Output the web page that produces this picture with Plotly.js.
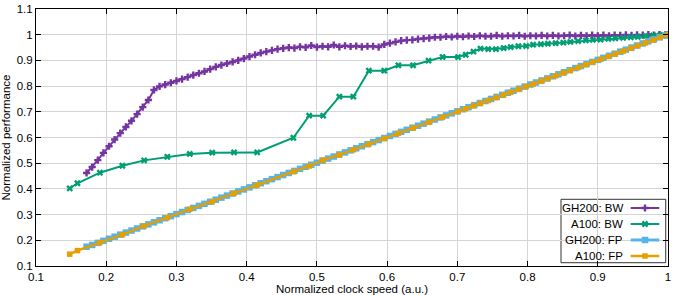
<!DOCTYPE html>
<html>
<head>
<meta charset="utf-8">
<script src="https://cdn.plot.ly/plotly-3.0.1.min.js"></script>
<style>html,body{margin:0;padding:0;background:#fff;}#chart{width:685px;height:295px;}</style>
</head>
<body>
<div id="chart"></div>
<script>
const gh200X = [
0.172,0.180,0.188,0.196,0.204,0.212,0.220,0.228,0.236,0.244,
0.252,0.260,0.268,0.276,0.284,0.292,0.300,0.308,0.316,0.324,
0.332,0.340,0.348,0.356,0.364,0.372,0.380,0.388,0.396,0.404,
0.412,0.420,0.428,0.436,0.444,0.452,0.460,0.468,0.476,0.484,
0.492,0.500,0.508,0.516,0.524,0.532,0.540,0.548,0.556,0.564,
0.572,0.580,0.588,0.596,0.604,0.612,0.620,0.628,0.636,0.644,
0.652,0.660,0.668,0.676,0.684,0.692,0.700,0.708,0.716,0.724,
0.732,0.740,0.748,0.756,0.764,0.772,0.780,0.788,0.796,0.804,
0.812,0.820,0.828,0.836,0.844,0.852,0.860,0.868,0.876,0.884,
0.892,0.900,0.908,0.916,0.924,0.932,0.940,0.948,0.956,0.964,
0.972,0.980,0.988,0.996,1.000];
const gh200BW = [
0.462,0.485,0.512,0.540,0.566,0.592,0.617,0.641,0.665,0.691,
0.718,0.746,0.785,0.799,0.806,0.813,0.820,0.827,0.835,0.843,
0.850,0.857,0.866,0.875,0.882,0.888,0.894,0.900,0.907,0.915,
0.922,0.929,0.934,0.939,0.944,0.947,0.950,0.948,0.953,0.951,
0.958,0.952,0.955,0.953,0.960,0.953,0.957,0.954,0.956,0.953,
0.955,0.955,0.952,0.962,0.967,0.972,0.977,0.979,0.980,0.983,
0.985,0.987,0.990,0.990,0.993,0.991,0.994,0.992,0.995,0.993,
0.996,0.994,0.994,0.997,0.994,0.996,0.995,0.997,0.994,0.996,
0.995,0.997,0.995,0.997,0.995,0.996,0.998,0.995,0.997,0.996,
0.998,0.996,0.998,0.996,0.998,0.997,0.999,0.997,0.999,0.998,
1.000,0.998,1.000,0.999,1.000];
const gh200FP = [
0.175,0.182,0.190,0.198,0.206,0.214,0.222,0.230,0.238,0.246,
0.254,0.262,0.270,0.278,0.286,0.294,0.302,0.310,0.318,0.326,
0.334,0.342,0.350,0.358,0.366,0.374,0.382,0.390,0.398,0.406,
0.414,0.422,0.430,0.438,0.446,0.454,0.462,0.470,0.478,0.486,
0.494,0.502,0.510,0.518,0.526,0.534,0.542,0.550,0.558,0.566,
0.574,0.582,0.590,0.598,0.606,0.614,0.622,0.630,0.638,0.646,
0.654,0.662,0.670,0.678,0.686,0.694,0.702,0.710,0.718,0.726,
0.734,0.742,0.750,0.758,0.766,0.774,0.782,0.790,0.798,0.806,
0.814,0.822,0.830,0.838,0.846,0.854,0.862,0.870,0.878,0.886,
0.894,0.902,0.910,0.918,0.926,0.934,0.942,0.950,0.958,0.966,
0.974,0.982,0.990,0.997,1.000];

const a100X = [
0.148,0.159,0.191,0.223,0.254,0.287,0.319,0.351,0.382,0.415,
0.4665,0.489,0.509,0.532,0.552,0.574,0.596,0.616,0.637,0.659,
0.679,0.701,0.712,0.723,0.733,0.744,0.755,0.766,0.776,0.787,
0.798,0.808,0.819,0.829,0.840,0.851,0.861,0.872,0.883,0.893,
0.904,0.915,0.925,0.936,0.947,0.957,0.968,0.979,0.989,1.000];
const a100BW = [
0.402,0.422,0.463,0.490,0.511,0.525,0.536,0.541,0.542,0.542,
0.599,0.685,0.685,0.759,0.759,0.860,0.860,0.881,0.881,0.899,
0.913,0.913,0.922,0.934,0.946,0.944,0.944,0.948,0.952,0.955,
0.956,0.961,0.963,0.965,0.967,0.969,0.972,0.975,0.978,0.980,
0.981,0.984,0.986,0.988,0.990,0.992,0.995,0.997,0.999,1.000];
const a100FP = [
0.146,0.160,0.191,0.222,0.256,0.288,0.321,0.350,0.383,0.415,
0.467,0.489,0.512,0.532,0.552,0.574,0.596,0.616,0.637,0.659,
0.679,0.701,0.712,0.723,0.733,0.744,0.755,0.766,0.776,0.787,
0.798,0.808,0.819,0.829,0.840,0.851,0.861,0.872,0.883,0.893,
0.904,0.915,0.925,0.936,0.947,0.957,0.968,0.979,0.989,1.000];

const seriesNames = ['GH200: BW', 'A100: BW', 'GH200: FP', 'A100: FP'];
const xTicks = [0.1,0.2,0.3,0.4,0.5,0.6,0.7,0.8,0.9,1];
const xTickText = ['0.1','0.2','0.3','0.4','0.5','0.6','0.7','0.8','0.9','1'];
const yTicks = [0.1,0.2,0.3,0.4,0.5,0.6,0.7,0.8,0.9,1,1.1];
const yTickText = ['0.1','0.2','0.3','0.4','0.5','0.6','0.7','0.8','0.9','1','1.1'];

const FONT = 'Liberation Sans, Arial, Helvetica, sans-serif';

const styles = [
  {line: {color: '#7535a0', width: 2}, marker: {symbol: 'cross', size: 6, color: '#7535a0'}},
  {line: {color: '#009E73', width: 2}, marker: {symbol: 'x', size: 6, color: '#009E73'}},
  {line: {color: '#56B4E9', width: 3}, marker: {symbol: 'square', size: 6.5, color: '#56B4E9'}},
  {line: {color: '#E69F00', width: 2.5}, marker: {symbol: 'square', size: 5.5, color: '#E69F00'}}
];
const seriesX = [gh200X, a100X, gh200X, a100X];
const seriesY = [gh200BW, a100BW, gh200FP, a100FP];

const traces = seriesNames.map((n, i) => ({
  x: seriesX[i], y: seriesY[i], name: n, mode: 'lines+markers',
  line: styles[i].line, marker: styles[i].marker, showlegend: false
}));

// gnuplot-style key (text left, sample right), placed in plot-fraction coords
const key = {x0: 0.8307, x1: 0.9964, y0: 0.0128, y1: 0.2595,
             textX: 0.932, sampleX: [0.941, 0.9636, 0.9862],
             rows: [0.2257, 0.1634, 0.1012, 0.0389]};

seriesNames.forEach((n, i) => {
  const r = key.rows[i];
  traces.push({
    x: key.sampleX, y: [r, r, r], xaxis: 'x2', yaxis: 'y2',
    mode: 'lines+markers', showlegend: false, hoverinfo: 'skip',
    line: styles[i].line,
    marker: Object.assign({}, styles[i].marker, {opacity: [0, 1, 0]})
  });
});

const annotations = seriesNames.map((n, i) => ({
  xref: 'paper', yref: 'paper', x: key.textX, y: key.rows[i],
  xanchor: 'right', yanchor: 'middle', showarrow: false, text: n,
  font: {family: FONT, size: 11.5, color: '#000'}
}));

const axisCommon = {
  showline: true, linecolor: '#000', linewidth: 1, mirror: 'ticks',
  ticks: 'inside', ticklen: 5, tickcolor: '#000', tickwidth: 1,
  showgrid: true, gridcolor: '#d4d4d4', gridwidth: 1, zeroline: false,
  tickfont: {family: FONT, size: 11.5, color: '#000'}
};

const layout = {
  width: 685, height: 295,
  margin: {l: 36, r: 17, t: 9, b: 29},
  paper_bgcolor: '#fff', plot_bgcolor: '#fff',
  font: {family: FONT, size: 11.5, color: '#000'},
  showlegend: false,
  xaxis: Object.assign({}, axisCommon, {
    range: [0.1, 1], tickvals: xTicks, ticktext: xTickText,
    title: {text: 'Normalized clock speed (a.u.)', font: {family: FONT, size: 11.5, color: '#000'}, standoff: 2}
  }),
  yaxis: Object.assign({}, axisCommon, {
    range: [0.1, 1.1], tickvals: yTicks, ticktext: yTickText,
    title: {text: 'Normalized performance', font: {family: FONT, size: 11.5, color: '#000'}, standoff: 4}
  }),
  xaxis2: {overlaying: 'x', range: [0, 1], visible: false, fixedrange: true},
  yaxis2: {overlaying: 'y', range: [0, 1], visible: false, fixedrange: true},
  shapes: [{
    type: 'rect', xref: 'paper', yref: 'paper',
    x0: key.x0, x1: key.x1, y0: key.y0, y1: key.y1,
    fillcolor: '#fff', line: {color: '#333', width: 1}, layer: 'between'
  }],
  annotations: annotations
};

Plotly.newPlot('chart', traces, layout, {displayModeBar: false, staticPlot: true});
</script>
</body>
</html>
